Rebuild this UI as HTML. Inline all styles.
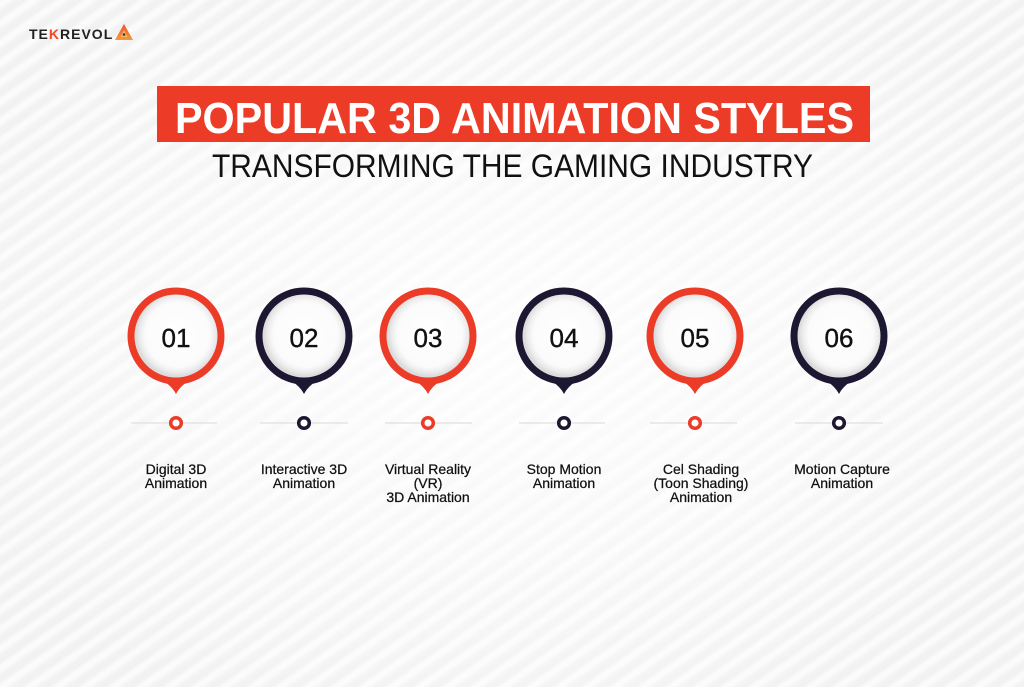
<!DOCTYPE html>
<html>
<head>
<meta charset="utf-8">
<style>
  html,body{margin:0;padding:0;}
  body{width:1024px;height:687px;overflow:hidden;
    background:
      radial-gradient(ellipse at 50% 50%, rgba(255,255,255,0.8) 0%, rgba(255,255,255,0.45) 45%, rgba(255,255,255,0) 85%),
      repeating-linear-gradient(-35deg, #f1f1f1 0px, #f3f3f3 5px, #fbfbfb 9px, #fbfbfb 12px, #f1f1f1 16px);
  }
  svg{display:block;}
  .t{font-family:"Liberation Sans",sans-serif;}
  .d{stroke:#111;stroke-width:0.25px;}
  .n{stroke:#111;stroke-width:0.4px;}
</style>
</head>
<body>
<svg width="1024" height="687" viewBox="0 0 1024 687" xmlns="http://www.w3.org/2000/svg">
  <defs>
    <radialGradient id="inner" cx="0.52" cy="0.48" r="0.5">
      <stop offset="0" stop-color="#ffffff"/>
      <stop offset="0.78" stop-color="#fbfbfb"/>
      <stop offset="0.92" stop-color="#ebebeb"/>
      <stop offset="1" stop-color="#dcdcdc"/>
    </radialGradient>
    <linearGradient id="tri" x1="0" y1="0" x2="0" y2="1">
      <stop offset="0" stop-color="#f0502a"/>
      <stop offset="1" stop-color="#f39a3a"/>
    </linearGradient>
  </defs>

  <!-- Logo -->
  <text class="t" x="29" y="39" font-size="14" font-weight="bold" fill="#222" letter-spacing="1">TE<tspan fill="#ee4a2a">K</tspan>REVOL</text>
  <polygon points="124,24 133,40 115,40" fill="url(#tri)"/>
  <polygon points="124,30 127.5,37 120.5,37" fill="#f7b56a"/>
  <circle cx="124" cy="34.5" r="1.3" fill="#333"/>

  <!-- Title -->
  <rect x="157" y="86" width="713" height="56" fill="#ec3b26"/>
  <text class="t" x="175" y="133" font-size="44" font-weight="bold" fill="#ffffff" textLength="679" lengthAdjust="spacingAndGlyphs">POPULAR 3D ANIMATION STYLES</text>
  <text class="t" x="212" y="177" font-size="32" fill="#111111" textLength="601" lengthAdjust="spacingAndGlyphs">TRANSFORMING THE GAMING INDUSTRY</text>

  <!-- Items -->
  <g id="items">
    <!-- 01 -->
    <g>
      <path d="M162 380 Q172 386 176 394 Q180 386 190 380 Z" fill="#ec3b26"/>
      <circle cx="176" cy="336" r="48.5" fill="#ec3b26"/>
      <circle cx="176" cy="336" r="41.5" fill="url(#inner)"/>
      <text class="t n" x="176" y="347" font-size="26" fill="#111" text-anchor="middle">01</text>
      <line x1="131" y1="423" x2="217" y2="423" stroke="#d9d9d9" stroke-width="1"/>
      <circle cx="176" cy="423" r="5.3" fill="#fff" stroke="#ec3b26" stroke-width="3.5"/>
      <text class="t d" font-size="14" fill="#111" text-anchor="middle"><tspan x="176" y="474">Digital 3D</tspan><tspan x="176" y="488">Animation</tspan></text>
    </g>
    <!-- 02 -->
    <g>
      <path d="M290 380 Q300 386 304 394 Q308 386 318 380 Z" fill="#1d1731"/>
      <circle cx="304" cy="336" r="48.5" fill="#1d1731"/>
      <circle cx="304" cy="336" r="41.5" fill="url(#inner)"/>
      <text class="t n" x="304" y="347" font-size="26" fill="#111" text-anchor="middle">02</text>
      <line x1="260" y1="423" x2="348" y2="423" stroke="#d9d9d9" stroke-width="1"/>
      <circle cx="304" cy="423" r="5.3" fill="#fff" stroke="#1d1731" stroke-width="3.5"/>
      <text class="t d" font-size="14" fill="#111" text-anchor="middle"><tspan x="304" y="474">Interactive 3D</tspan><tspan x="304" y="488">Animation</tspan></text>
    </g>
    <!-- 03 -->
    <g>
      <path d="M414 380 Q424 386 428 394 Q432 386 442 380 Z" fill="#ec3b26"/>
      <circle cx="428" cy="336" r="48.5" fill="#ec3b26"/>
      <circle cx="428" cy="336" r="41.5" fill="url(#inner)"/>
      <text class="t n" x="428" y="347" font-size="26" fill="#111" text-anchor="middle">03</text>
      <line x1="385" y1="423" x2="472" y2="423" stroke="#d9d9d9" stroke-width="1"/>
      <circle cx="428" cy="423" r="5.3" fill="#fff" stroke="#ec3b26" stroke-width="3.5"/>
      <text class="t d" font-size="14" fill="#111" text-anchor="middle"><tspan x="428" y="474">Virtual Reality</tspan><tspan x="428" y="488">(VR)</tspan><tspan x="428" y="502">3D Animation</tspan></text>
    </g>
    <!-- 04 -->
    <g>
      <path d="M550 380 Q560 386 564 394 Q568 386 578 380 Z" fill="#1d1731"/>
      <circle cx="564" cy="336" r="48.5" fill="#1d1731"/>
      <circle cx="564" cy="336" r="41.5" fill="url(#inner)"/>
      <text class="t n" x="564" y="347" font-size="26" fill="#111" text-anchor="middle">04</text>
      <line x1="519" y1="423" x2="605" y2="423" stroke="#d9d9d9" stroke-width="1"/>
      <circle cx="564" cy="423" r="5.3" fill="#fff" stroke="#1d1731" stroke-width="3.5"/>
      <text class="t d" font-size="14" fill="#111" text-anchor="middle"><tspan x="564" y="474">Stop Motion</tspan><tspan x="564" y="488">Animation</tspan></text>
    </g>
    <!-- 05 -->
    <g>
      <path d="M681 380 Q691 386 695 394 Q699 386 709 380 Z" fill="#ec3b26"/>
      <circle cx="695" cy="336" r="48.5" fill="#ec3b26"/>
      <circle cx="695" cy="336" r="41.5" fill="url(#inner)"/>
      <text class="t n" x="695" y="347" font-size="26" fill="#111" text-anchor="middle">05</text>
      <line x1="650" y1="423" x2="737" y2="423" stroke="#d9d9d9" stroke-width="1"/>
      <circle cx="695" cy="423" r="5.3" fill="#fff" stroke="#ec3b26" stroke-width="3.5"/>
      <text class="t d" font-size="14" fill="#111" text-anchor="middle"><tspan x="701" y="474">Cel Shading</tspan><tspan x="701" y="488">(Toon Shading)</tspan><tspan x="701" y="502">Animation</tspan></text>
    </g>
    <!-- 06 -->
    <g>
      <path d="M825 380 Q835 386 839 394 Q843 386 853 380 Z" fill="#1d1731"/>
      <circle cx="839" cy="336" r="48.5" fill="#1d1731"/>
      <circle cx="839" cy="336" r="41.5" fill="url(#inner)"/>
      <text class="t n" x="839" y="347" font-size="26" fill="#111" text-anchor="middle">06</text>
      <line x1="795" y1="423" x2="883" y2="423" stroke="#d9d9d9" stroke-width="1"/>
      <circle cx="839" cy="423" r="5.3" fill="#fff" stroke="#1d1731" stroke-width="3.5"/>
      <text class="t d" font-size="14" fill="#111" text-anchor="middle"><tspan x="842" y="474">Motion Capture</tspan><tspan x="842" y="488">Animation</tspan></text>
    </g>
  </g>
</svg>
</body>
</html>
